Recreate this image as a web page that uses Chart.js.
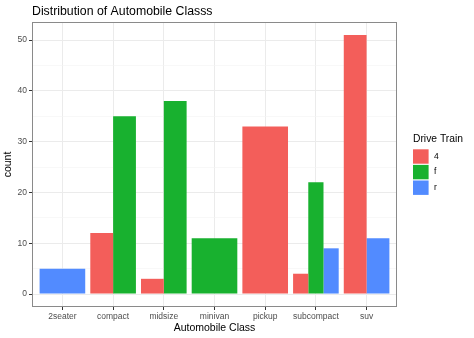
<!DOCTYPE html>
<html>
<head>
<meta charset="utf-8">
<script src="https://cdn.jsdelivr.net/npm/chart.js@4/dist/chart.umd.min.js"></script>
<style>
  html,body{margin:0;padding:0;background:#fff;}
  canvas{display:block;}
</style>
</head>
<body>
<canvas id="cvs" width="474" height="338"></canvas>
<script>
/* 車型分佈：依驅動方式分組的長條圖 */
const classes = ['2seater','compact','midsize','minivan','pickup','subcompact','suv'];
const drv4 = [null, 12, 3, null, 33, 4, 51];
const drvF = [null, 35, 38, 11, null, 22, null];
const drvR = [5, null, null, null, null, 9, 11];
const drvNames = ['4','f','r'];
const yTicks = [0, 10, 20, 30, 40, 50];

const FONT = '"Liberation Sans", Arial, Helvetica, sans-serif';
const COL = ['#F35E5A', '#18B12F', '#528BFF'];

const toPts = arr => classes.map((c,i)=>({x:i+1, y:arr[i]}));
const mkSet = (arr, i) => ({
  label: drvNames[i], data: toPts(arr),
  backgroundColor: COL[i], borderWidth: 0,
  categoryPercentage: 0.9, barPercentage: 1.0
});

// 標題、面板框線、右側圖例
const deco = {
  id:'deco',
  afterDraw(c){
    const {ctx, chartArea:{left,right,top,bottom}} = c;
    ctx.save();
    ctx.strokeStyle = '#8a8a8a'; ctx.lineWidth = 1;
    ctx.strokeRect(left+0.5, top+0.5, right-left-1, bottom-top-1);

    ctx.fillStyle = '#000';
    ctx.font = `12.3px ${FONT}`;
    ctx.textBaseline = 'alphabetic'; ctx.textAlign = 'left';
    ctx.fillText('Distribution of Automobile Classs', left, 15);

    const lx = right + 16;
    ctx.font = `10.3px ${FONT}`;
    ctx.fillText('Drive Train', lx, 142);
    const step = 15.6;
    c.data.datasets.forEach((d,i)=>{
      const y0 = 149.3 + i*step;
      ctx.fillStyle = d.backgroundColor;
      ctx.fillRect(lx, y0, 15.6, step-1.2);
      ctx.fillStyle = '#000';
      ctx.font = `8.5px ${FONT}`;
      ctx.textBaseline = 'middle';
      ctx.fillText(d.label, lx + 21, y0 + (step-1.2)/2);
      ctx.textBaseline = 'alphabetic';
    });
    ctx.restore();
  }
};

new Chart(document.getElementById('cvs'), {
  type: 'bar',
  data: { datasets: [mkSet(drv4,0), mkSet(drvF,1), mkSet(drvR,2)] },
  options: {
    responsive: false, animation: false,
    skipNull: true,
    layout: { padding: { top: 22, right: 77, left: 0, bottom: 0 } },
    plugins: { legend: { display: false }, tooltip: { enabled: false } },
    scales: {
      x: {
        type: 'linear', min: 0.4, max: 7.6, offset: false,
        grid: { offset: false, color: '#EBEBEB', lineWidth: 1, tickLength: 3, tickColor: '#333' },
        border: { display: false },
        ticks: {
          stepSize: 1, includeBounds: false, autoSkip: false, maxRotation: 0, padding: 2,
          color: '#4D4D4D', font: { family: FONT, size: 8.5 },
          callback: v => classes[v-1] ?? ''
        },
        title: { display: true, text: 'Automobile Class', color: '#000',
                 font: { family: FONT, size: 10.5 }, padding: { top: 0, bottom: 4 } },
        afterFit: s => { s.height = 31; }
      },
      y: {
        min: -2.55, max: 53.55,
        grid: {
          color: ctx => yTicks.includes(ctx.tick?.value) ? '#EBEBEB' : '#F3F3F3',
          lineWidth: ctx => yTicks.includes(ctx.tick?.value) ? 1 : 0.6,
          tickLength: 3,
          tickColor: ctx => yTicks.includes(ctx.tick?.value) ? '#333' : 'transparent'
        },
        border: { display: false },
        ticks: {
          stepSize: 5, includeBounds: false, padding: 2,
          color: '#4D4D4D', font: { family: FONT, size: 8.5 },
          callback: v => yTicks.includes(v) ? String(v) : ''
        },
        title: { display: true, text: 'count', color: '#000',
                 font: { family: FONT, size: 10.5 }, padding: { top: 2, bottom: 0 } },
        afterFit: s => { s.width = 32; }
      }
    }
  },
  plugins: [deco]
});
</script>
</body>
</html>
